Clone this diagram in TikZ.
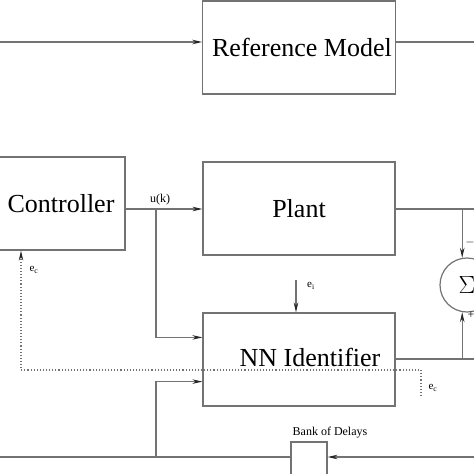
\documentclass[tikz,border=0pt]{standalone}
\usepackage{fontspec}
\setmainfont{Liberation Serif}
\usetikzlibrary{arrows.meta}

\begin{document}
\begin{tikzpicture}[x=1pt, y=-1pt, >={Stealth[length=10pt,width=4.5pt,color=black!85]},
        blk/.style={draw=black!55, line width=1.2pt, minimum width=192pt, minimum height=93pt, font=\fontsize{26}{30}\selectfont},
        wire/.style={draw=black!55, line width=1.1pt},
        small/.style={font=\fontsize{12}{14}\selectfont, inner sep=1pt},
        tiny/.style={font=\fontsize{11}{13}\selectfont, inner sep=1pt}] % pixel units, y downwards
            % Fix the frame of the picture
            \useasboundingbox (0,0) rectangle (474,474);
            \clip (0,0) rectangle (474,474);
            % Blocks
            \node[blk] (refm) at (299,47.5) {\hspace{6pt}Reference Model};
            \node[blk, minimum width=128pt] (ctrl) at (61,203.5) {Controller};
            \node[blk] (plant) at (299,208.5) {Plant};
            \node[blk] (nn) at (299,359.5) {};
            \node[font=\fontsize{26}{30}\selectfont] (nnl) at (310,357) {NN Identifier};
            \node[draw=black!55, line width=1.2pt, minimum width=36pt, minimum height=40pt] (bank) at (309,462) {};
            \node[draw=black!55, line width=1.2pt, circle, minimum size=54pt, inner sep=0pt, font=\fontsize{27}{30}\selectfont] (sum) at (467,285) {$\Sigma$};

            % Free ends and branch points
            \coordinate (rin) at (0,42);
            \coordinate (rout) at (474,42);
            \coordinate (uk) at (156,209);
            \coordinate (pout) at (474,209);
            \coordinate (nout) at (474,359);
            \coordinate (ei) at (296,280);
            \coordinate (bin) at (474,457);
            \coordinate (bout) at (0,457);
            \coordinate (fb) at (156,457);
            \coordinate (ecs) at (421,396);
            \coordinate (ecc) at (21,370);

            % Reference model line
            \draw[wire,->] (rin) -- (refm.west |- rin);
            \draw[wire] (refm.east |- rout) -- (rout);

            % Control signal u(k)
            \draw[wire] (ctrl.east |- uk) -- (uk);
            \draw[wire,->] (uk) -- (plant.west |- uk);
            \draw[wire,->] (uk) |- ([yshift=-25pt]nn.north west);
            \node[small] (ukl) at (160,200) {u(k)};

            % Plant and identifier outputs into the sum
            \draw[wire] (plant.east |- pout) -- (pout);
            \draw[wire,->] (sum.100 |- pout) -- (sum.100);
            \draw[wire] (nn.east |- nout) -- (nout);
            \draw[wire,->] (sum.260 |- nout) -- (sum.260);
            \node[small] (minus) at (470,242) {$-$};
            \node[small] (plus) at (471,315) {+};

            % Identification error
            \draw[wire,->] (ei) -- (ei |- nn.north);
            \node[tiny] (eil) at (311,286) {e$_\mathrm{i}$};

            % Bank of delays and feedback into the identifier
            \draw[wire,->] (bin) -- (bank.east |- bin);
            \draw[wire] (bank.west |- bout) -- (bout);
            \draw[wire,->] (fb) |- ([yshift=25pt]nn.south west);
            \node[small] (bankl) at (330,433) {Bank of Delays};

            % Control error, dotted
            \draw[black!55, line width=1.1pt, dotted, ->] (ecs) |- (ecc) -- (ecc |- ctrl.south);
            \node[tiny] (ecl) at (34,270) {e$_\mathrm{c}$};
            \node[tiny] (ecr) at (433,388) {e$_\mathrm{c}$};
        \end{tikzpicture}
\end{document}
